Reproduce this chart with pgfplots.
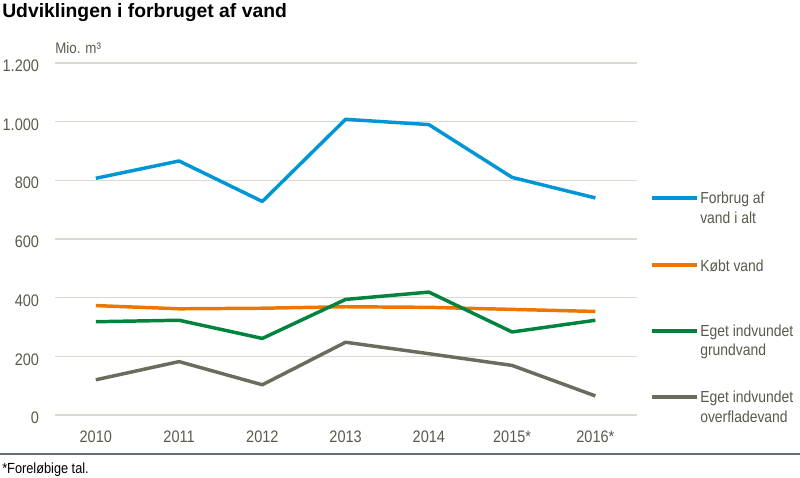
\documentclass[border=0pt]{standalone}
\usepackage{fontspec}
\setmainfont{Liberation Sans}[FakeStretch=0.87]
\newfontfamily\titlefont{Liberation Sans}
\usepackage{pgfplots}
\pgfplotsset{compat=1.18}

\definecolor{cTotal}{RGB}{0,150,214}
\definecolor{cBought}{RGB}{238,118,0}
\definecolor{cGround}{RGB}{0,132,61}
\definecolor{cSurface}{RGB}{107,107,94}
\definecolor{txtgrey}{RGB}{89,89,76}
\definecolor{gridc}{RGB}{217,217,208}
\definecolor{footc}{RGB}{95,110,120}

% values in mio. m3, 2010 ... 2016 plotted at 0 ... 6
\pgfplotstableread{
x total bought ground surface
0 807  373 318 120
1 866  362 323 182
2 728  364 261 103
3 1008 369 394 248
4 990  367 419 209
5 810  360 283 169
6 740  353 323 65
}\vand

\begin{document}
% 1 unit = 1 px of the 800x478 picture, origin bottom left
\begin{tikzpicture}[x=0.75pt, y=0.75pt]
\useasboundingbox (0,0) rectangle (800,478);

\node[anchor=base west, inner sep=0, font=\titlefont\bfseries\fontsize{14.5}{17}\selectfont] at (2,460.5) {Udviklingen i forbruget af vand};
\node[anchor=base west, inner sep=0, text=txtgrey, font=\fontsize{11.5}{13}\selectfont] at (55,424.5) {Mio. m³};

\begin{axis}[
    at={(41.25pt,47.25pt)}, anchor=south west,
    scale only axis,
    width=436.5pt, height=264pt,
    xmin=-0.49, xmax=6.5,
    ymin=0, ymax=1200,
    axis x line*=bottom, axis y line*=left,
    axis line style={draw=none},
    major tick length=0pt,
    xtick={0,1,2,3,4,5,6},
    xticklabels={2010,2011,2012,2013,2014,2015*,2016*},
    ytick={0,200,400,600,800,1000,1200},
    ymajorgrids,
    grid style={gridc, line width=1.1pt},
    tick label style={text=txtgrey, font=\fontsize{12.5}{14}\selectfont},
    xticklabel style={yshift=-8.5pt},
    yticklabel style={xshift=-8.5pt, yshift=-2.2pt},
    clip=false,
    /pgf/number format/.cd, 1000 sep={.}, assume math mode=true,
]
\addplot[cTotal, line width=2.6pt, line join=round] table[x=x, y=total] {\vand};
\addplot[cBought, line width=2.6pt, line join=round] table[x=x, y=bought] {\vand};
\addplot[cGround, line width=2.6pt, line join=round] table[x=x, y=ground] {\vand};
\addplot[cSurface, line width=2.6pt, line join=round] table[x=x, y=surface] {\vand};
\end{axis}

% legend
\begin{scope}[every node/.style={anchor=west, inner sep=0, text=txtgrey, font=\fontsize{12}{14}\selectfont}]
\draw[cTotal, line width=2.6pt] (652,280) -- (697,280);
\node at (700,279) {Forbrug af};
\node at (700,260) {vand i alt};
\draw[cBought, line width=2.6pt] (652,213) -- (697,213);
\node at (700,212) {Købt vand};
\draw[cGround, line width=2.6pt] (652,147) -- (697,147);
\node at (700,146) {Eget indvundet};
\node at (700,127) {grundvand};
\draw[cSurface, line width=2.6pt] (652,81) -- (697,81);
\node at (700,80) {Eget indvundet};
\node at (700,61) {overfladevand};
\end{scope}

\draw[footc, line width=1.5pt] (0,24) -- (800,24);
\node[anchor=base west, inner sep=0, font=\fontsize{11}{13}\selectfont] at (2,4) {*Foreløbige tal.};
\end{tikzpicture}
\end{document}
